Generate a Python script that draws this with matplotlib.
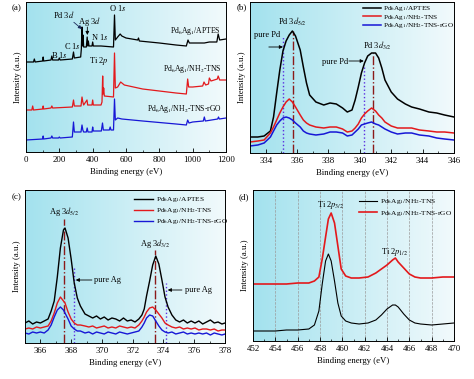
import numpy as np
import matplotlib
matplotlib.use('Agg')
import matplotlib.pyplot as plt
from matplotlib.colors import LinearSegmentedColormap
from matplotlib.ticker import MultipleLocator

plt.rcParams['font.family'] = ['Liberation Serif', 'DejaVu Serif']
plt.rcParams['mathtext.fontset'] = 'stix'
plt.rcParams['font.size'] = 6.3

# ---- data (intensities in arbitrary units) ----
lab_aptes = r'Pd$_6$Ag$_1$/APTES'
lab_tns = r'Pd$_6$Ag$_1$/NH$_2$-TNS'
lab_rgo = r'Pd$_6$Ag$_1$/NH$_2$-TNS-rGO'

# (a) survey
a_x_black = [0, 45, 50, 55, 100, 103, 106, 150, 155, 160, 195, 200, 205, 278, 285, 290,
             328, 332, 336, 339, 342, 346, 362, 367, 371, 374, 378, 396, 400, 404, 450,
             525, 531, 536, 550, 565, 575, 600, 670, 675, 680, 800, 900, 962, 972, 980,
             1000, 1070, 1100, 1145, 1153, 1162, 1200]
a_y_black = [90, 90, 93, 90, 91, 95, 91, 92, 96, 92, 92, 94, 92, 93, 100, 94,
             95, 103, 125, 106, 117, 105, 105, 115, 106, 111, 106, 106, 110, 106, 106,
             105, 137, 112, 115, 118, 116, 114, 112, 114, 111, 109, 107, 106, 112, 109,
             109, 109, 110, 110, 118, 112, 113]
a_x_red = [0, 35, 40, 45, 100, 103, 106, 150, 155, 160, 278, 285, 290, 330, 336, 341, 346,
           366, 370, 396, 400, 404, 450, 456, 460, 463, 466, 470, 525, 531, 536, 550, 568,
           590, 700, 900, 962, 970, 976, 1000, 1060, 1068, 1078, 1095, 1100, 1110, 1148,
           1153, 1162, 1200]
a_y_red = [42, 42, 46, 42, 43, 46, 43, 44, 46, 44, 45, 52, 46, 46, 55, 50, 47,
           52, 47, 47, 52, 47, 47, 50, 76, 58, 64, 56, 55, 99, 64, 65, 70,
           67, 63, 59, 58, 73, 65, 65, 66, 70, 67, 68, 74, 71, 73,
           76, 72, 72]
a_x_blue = [0, 100, 103, 106, 150, 155, 160, 195, 200, 205, 278, 285, 290, 330, 336, 341,
            346, 362, 367, 372, 396, 400, 404, 452, 459, 464, 500, 505, 510, 525, 531, 536,
            550, 575, 700, 900, 962, 970, 978, 1000, 1064, 1070, 1076, 1150, 1155, 1160, 1200]
a_y_blue = [12, 13, 16, 13, 14, 16, 14, 14, 15, 14, 15, 30, 20, 20, 27, 22,
            20, 20, 24, 20, 20, 25, 21, 21, 29, 22, 22, 25, 22, 22, 53, 32,
            34, 33, 31, 28, 27, 32, 29, 30, 31, 35, 31, 33, 35, 33, 34]

# (b) Pd 3d
b_x = [333, 333.5, 333.9, 334.3, 334.5, 334.7, 334.9, 335.1, 335.3, 335.5, 335.7, 335.9,
       336.2, 336.4, 336.6, 336.8, 337.2, 337.7, 338.1, 338.5, 338.9, 339.2, 339.5, 339.7,
       339.9, 340.1, 340.3, 340.5, 340.75, 341, 341.2, 341.4, 341.6, 342, 342.4, 342.9,
       343.3, 343.8, 344.4, 344.9, 345.4, 346]
b_black = [16, 16, 17, 22, 36, 60, 83, 102, 112, 118, 122, 117, 103, 86, 70, 58, 51, 48, 50, 49,
           45, 41, 43, 53, 66, 80, 90, 97, 100, 100, 95, 85, 73, 61, 54, 49, 46, 44, 41, 40, 38, 36]
b_red = [11, 12, 13, 20, 26, 33, 40, 46, 51, 54, 51, 46, 38, 33, 30, 28, 26, 25, 26, 26,
         24, 21, 22, 25, 29, 35, 39, 42, 45, 42, 38, 35, 31, 27, 25, 25, 25, 23, 22, 21, 21, 20]
b_blue = [7, 8, 10, 16, 22, 28, 32, 35, 36, 35, 33, 30, 26, 22, 20, 19, 18, 19, 21, 21,
          20, 17, 18, 21, 24, 28, 29, 30, 31, 29, 28, 26, 24, 21, 19, 20, 20, 18, 17, 15, 14, 13]
b_pd_alloy = [335.72, 340.84]
b_pd_pure = [335.12, 340.29]

# (c) Ag 3d
c_x = [365, 365.25, 365.5, 365.75, 366, 366.25, 366.5, 366.7, 366.9, 367.1,
       367.3, 367.5, 367.6, 367.8, 368, 368.2, 368.4, 368.6, 368.9, 369.15,
       369.4, 369.65, 369.9, 370.15, 370.4, 370.65, 370.9, 371.15, 371.4, 371.65,
       371.9, 372.15, 372.4, 372.6, 372.75, 372.9, 373.1, 373.3, 373.5, 373.7,
       373.9, 374.1, 374.3, 374.55, 374.8, 375.05, 375.3, 375.55, 375.8, 376.05,
       376.3, 376.55, 376.8, 377.05, 377.3, 377.55, 377.8, 378]
c_black = [20, 22, 19, 21, 20, 22, 24, 32, 42, 66,
           95, 113, 115, 105, 84, 60, 45, 37, 29, 27,
           25, 27, 24, 26, 23, 25, 24, 22, 25, 22,
           23, 21, 24, 28, 34, 47, 62, 78, 87, 79,
           63, 46, 36, 28, 23, 21, 23, 20, 22, 20,
           22, 19, 21, 23, 20, 21, 19, 20]
c_red = [14, 15, 14, 16, 15, 16, 17, 22, 30, 40,
         46, 42, 40, 31, 24, 20, 18, 18, 17, 16,
         17, 15, 16, 17, 15, 16, 15, 17, 16, 15,
         16, 15, 18, 22, 26, 31, 35, 36, 33, 29,
         25, 20, 18, 16, 15, 16, 14, 15, 14, 15,
         13, 14, 14, 13, 14, 12, 13, 13]
c_blue = [10, 9, 11, 10, 11, 10, 13, 18, 26, 33,
          36, 33, 30, 24, 17, 14, 12, 12, 10, 11,
          9, 11, 10, 9, 11, 10, 9, 11, 10, 9,
          10, 11, 12, 16, 20, 25, 28, 27, 22, 17,
          13, 11, 10, 11, 9, 10, 11, 9, 10, 9,
          10, 9, 10, 8, 10, 9, 8, 9]
c_ag_alloy = [367.56, 373.46]
c_ag_pure = [368.2, 374.17]

# (d) Ti 2p
d_x = [452, 453, 454, 455, 456, 457, 457.5, 457.9, 458.2, 458.5, 458.75, 459, 459.3, 459.6,
       459.9, 460.3, 460.8, 461.5, 462.3, 463, 463.5, 464, 464.5, 464.75, 465, 465.5, 466,
       466.5, 467, 468, 469, 470]
d_black = [10, 10, 10, 11, 11, 12, 16, 30, 57, 80, 87, 80, 60, 38, 25, 20, 18, 17, 18, 21,
           26, 32, 36, 36, 34, 27, 21, 18, 17, 16, 17, 18]
d_red = [57, 57, 57, 57, 58, 58, 60, 64, 82, 104, 122, 128, 118, 95, 72, 65, 63, 63, 64, 68,
         72, 76, 81, 83, 79, 73, 67, 64, 63, 63, 64, 64]

BLACK, RED, BLUE = 'black', '#e3191c', '#1717d6'
DDOT, BDOT = '#8b1a1a', '#5a2ee0'

W, H = 474, 379
fig = plt.figure(figsize=(W / 100, H / 100), dpi=100)


def box(l, t, r, b):
    return [l / W, 1 - b / H, (r - l) / W, (b - t) / H]


bg = LinearSegmentedColormap.from_list('bg', ['#a3e2ee', '#f2fafc'])
grad = np.linspace(0, 1, 256).reshape(1, -1)


def setup(ax, xlim, ylim, major, minor):
    ax.imshow(grad, extent=[0, 1, 0, 1], transform=ax.transAxes, cmap=bg,
              aspect='auto', zorder=0)
    ax.set_xlim(*xlim)
    ax.set_ylim(*ylim)
    ax.xaxis.set_major_locator(MultipleLocator(major))
    ax.xaxis.set_minor_locator(MultipleLocator(minor))
    ax.set_yticks([])
    ax.tick_params(axis='x', which='both', direction='in', top=False, pad=3, labelsize=6.3)
    ax.tick_params(axis='x', which='major', length=3, width=0.6)
    ax.tick_params(axis='x', which='minor', length=1.6, width=0.5)
    ax.set_xlabel('Binding energy (eV)', labelpad=3)
    ax.set_ylabel('Intensity (a.u.)', labelpad=3)
    for s in ax.spines.values():
        s.set_linewidth(0.7)


arrow = dict(arrowstyle='-|>', lw=0.6, color='black', mutation_scale=5, shrinkA=0, shrinkB=0)
FS = 6.0

# ---- (a) ----
ax = fig.add_axes(box(26, 2, 226, 152))
setup(ax, (0, 1200), (0, 150), 200, 100)
ax.plot(a_x_black, a_y_black, color=BLACK, lw=0.9)
ax.plot(a_x_red, a_y_red, color=RED, lw=0.9)
ax.plot(a_x_blue, a_y_blue, color=BLUE, lw=0.9)
ax.text(548, 144, r'O 1$s$', ha='center', va='center', fontsize=FS)
ax.annotate(r'Pd 3$d$', xy=(335, 123), xytext=(228, 138), ha='center', va='center',
            fontsize=FS, arrowprops=dict(arrow, color='#1a2a5a'))
ax.text(378, 130, r'Ag 3$d$', ha='center', va='center', fontsize=FS)
ax.annotate('', xy=(368, 117), xytext=(368, 125), arrowprops=dict(arrow))
ax.text(444, 115, r'N 1$s$', ha='center', va='center', fontsize=FS)
ax.text(276, 106, r'C 1$s$', ha='center', va='center', fontsize=FS)
ax.text(198, 97, r'B 1$s$', ha='center', va='center', fontsize=FS)
ax.text(440, 91, r'Ti 2$p$', ha='center', va='center', fontsize=FS)
ax.text(1170, 121, lab_aptes, ha='right', va='center', fontsize=5.5)
ax.text(1175, 83, lab_tns, ha='right', va='center', fontsize=5.5)
ax.text(1175, 43, lab_rgo, ha='right', va='center', fontsize=5.5)
fig.text(17 / W, 1 - 8 / H, '(a)', ha='center', va='center', fontsize=6.5)

# ---- (b) ----
ax = fig.add_axes(box(250, 2, 454, 153))
setup(ax, (333, 346), (0, 151), 2, 1)
for xa, ya in zip(b_pd_alloy, [122, 100]):
    ax.plot([xa, xa], [0, ya], color=DDOT, lw=1.0, ls='-.')
for xp, yp in zip(b_pd_pure, [116, 88]):
    ax.plot([xp, xp], [0, yp], color=BDOT, lw=1.0, ls=':')
ax.plot(b_x, b_black, color=BLACK, lw=1.1, label=lab_aptes)
ax.plot(b_x, b_red, color=RED, lw=1.1, label=lab_tns)
ax.plot(b_x, b_blue, color=BLUE, lw=1.1, label=lab_rgo)
ax.text(335.7, 131, r'Pd 3$d_{5/2}$', ha='center', va='center', fontsize=FS)
ax.text(341.1, 107, r'Pd 3$d_{3/2}$', ha='center', va='center', fontsize=FS)
ax.text(334.1, 118, 'pure Pd', ha='center', va='center', fontsize=FS)
ax.annotate('', xy=(335.1, 106), xytext=(334.2, 106), arrowprops=arrow)
ax.text(338.4, 91, 'pure Pd', ha='center', va='center', fontsize=FS)
ax.annotate('', xy=(340.25, 92), xytext=(339.3, 92), arrowprops=arrow)
ax.legend(loc='upper left', bbox_to_anchor=(0.53, 1.02), frameon=False, fontsize=5.2,
          handlelength=2.4, handletextpad=0.4, labelspacing=-0.05, borderpad=0.2)
fig.text(242 / W, 1 - 7 / H, '(b)', ha='center', va='center', fontsize=6.5)

# ---- (c) ----
ax = fig.add_axes(box(25, 190, 225, 343))
setup(ax, (365, 378), (0, 153), 2, 1)
for xa, ya in zip(c_ag_alloy, [124, 93]):
    ax.plot([xa, xa], [0, ya], color=DDOT, lw=1.0, ls='-.')
for xp, yp in zip(c_ag_pure, [76, 60]):
    ax.plot([xp, xp], [0, yp], color=BDOT, lw=1.0, ls=':')
ax.plot(c_x, c_black, color=BLACK, lw=1.0, label=lab_aptes)
ax.plot(c_x, c_red, color=RED, lw=1.0, label=lab_tns)
ax.plot(c_x, c_blue, color=BLUE, lw=1.0, label=lab_rgo)
ax.text(367.56, 131, r'Ag 3$d_{5/2}$', ha='center', va='center', fontsize=FS)
ax.text(373.46, 100, r'Ag 3$d_{3/2}$', ha='center', va='center', fontsize=FS)
ax.text(369.5, 63, 'pure Ag', ha='left', va='center', fontsize=FS)
ax.annotate('', xy=(368.3, 63), xytext=(369.35, 63), arrowprops=arrow)
ax.text(375.4, 53, 'pure Ag', ha='left', va='center', fontsize=FS)
ax.annotate('', xy=(374.28, 53), xytext=(375.2, 53), arrowprops=arrow)
ax.legend(loc='upper left', bbox_to_anchor=(0.52, 1.0), frameon=False, fontsize=5.3,
          handlelength=2.6, handletextpad=0.4, labelspacing=0.28, borderpad=0.2)
fig.text(17 / W, 1 - 197 / H, '(c)', ha='center', va='center', fontsize=6.5)

# ---- (d) ----
ax = fig.add_axes(box(253, 190, 454, 341))
setup(ax, (452, 470), (0, 151), 2, 1)
ax.grid(axis='x', which='major', ls='--', color='#9a9a9a', lw=0.5)
ax.plot(d_x, d_black, color=BLACK, lw=0.8, label=lab_tns)
ax.plot(d_x, d_red, color=RED, lw=1.2, label=lab_rgo)
ax.text(458.96, 136, r'Ti 2$p_{3/2}$', ha='center', va='center', fontsize=FS)
ax.text(464.7, 89, r'Ti 2$p_{1/2}$', ha='center', va='center', fontsize=FS)
ax.legend(loc='upper left', bbox_to_anchor=(0.5, 0.985), frameon=False, fontsize=5.3,
          handlelength=2.5, handletextpad=0.4, labelspacing=0.3, borderpad=0.2)
fig.text(244 / W, 1 - 197 / H, '(d)', ha='center', va='center', fontsize=6.5)

fig.savefig('out.png', dpi=100)
